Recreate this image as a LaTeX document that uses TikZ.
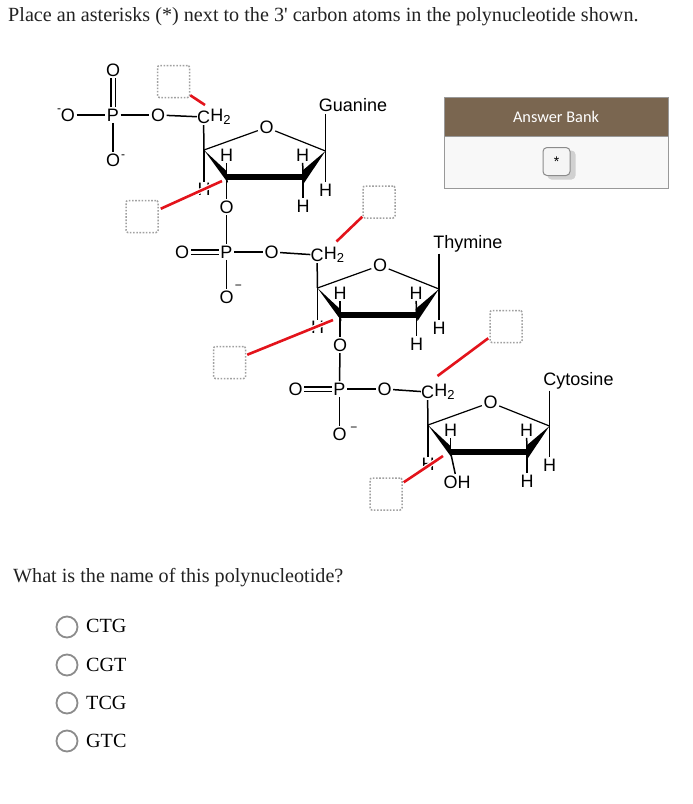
\documentclass[tikz,border=0pt]{standalone}
\usepackage{fontspec}
\setmainfont{Liberation Serif}
\newfontfamily\plainserif{Liberation Serif}
\newfontfamily\chemfont{Liberation Sans}
\newfontfamily\bankfont{Carlito}
\definecolor{bankbrown}{HTML}{7A6650}
\definecolor{bankbody}{HTML}{F8F8F8}
\definecolor{bankline}{HTML}{999999}
\definecolor{dropline}{HTML}{A0A0A0}
\definecolor{redline}{HTML}{E3131B}
\definecolor{radioline}{HTML}{8C8C8C}
\definecolor{textdark}{HTML}{222222}
\newcommand{\chemsize}{\fontsize{18}{18}\selectfont}
\newcommand{\serifsize}{\fontsize{20.15}{22}\selectfont}
\tikzset{
  atom/.style={font=\chemfont\chemsize,inner sep=1.5pt,text=black},
  charge/.style={font=\chemfont\fontsize{12}{12}\selectfont,inner sep=0pt},
  bond/.style={draw=black,line width=1.5pt},
  dbond/.style={draw=black,line width=1.5pt,double,double distance=3pt},
  ringpt/.style={coordinate},
  dropbox/.style={draw=dropline,dash pattern=on 1.6pt off 1.6pt,line width=1.5pt,rounded corners=2pt,minimum width=32pt,minimum height=32pt,inner sep=0pt},
  redbond/.style={draw=redline,line width=2.6pt,preaction={draw=white,line width=5pt}},
  radio/.style={circle,draw=radioline,line width=1.8pt,minimum size=21pt,inner sep=0pt},
  choice/.style={font=\serifsize,anchor=west,inner sep=0pt,text=black},
  qtext/.style={font=\serifsize,anchor=west,inner sep=0pt,text=textdark},
}
% #1 prefix, #2 x shift, #3 y shift, #4 base label, #5 label x shift
\newcommand{\sugar}[5]{%
  \begin{scope}[shift={(#2,#3)}]
    \node[ringpt] (#1c4) at (204,150) {};
    \node[ringpt] (#1c3) at (226.5,177) {};
    \node[ringpt] (#1c2) at (303,177) {};
    \node[ringpt] (#1c1) at (325.5,151) {};
    \node[ringpt] (#1w3b) at (226.5,171) {};
    \node[ringpt] (#1w3c) at (228,183) {};
    \node[ringpt] (#1w2a) at (302,171) {};
    \node[ringpt] (#1w2b) at (304,183) {};
    \node[atom] (#1o) at (266.5,127.5) {O};
    \node[atom,inner sep=0pt,minimum height=16pt] (#1ch) at (203.5,117) {C};
    \node[atom,anchor=west,inner sep=0pt] (#1hh) at (#1ch.east) {H\raisebox{-3pt}{\fontsize{13}{13}\selectfont 2}};
    \node[atom] (#1ht3) at (226.5,155) {H};
    \node[atom] (#1ht2) at (302.5,155) {H};
    \node[atom] (#1hb1) at (325.5,190) {H};
    \node[atom] (#1hb2) at (303,206) {H};
    \node[atom] (#1hb4) at (204,189.5) {H};
    \draw[bond] (#1ch) -- (#1c4);
    \draw[bond,line width=1.2pt] (#1c4) -- (#1o);
    \draw[bond,line width=1.2pt] (#1o) -- (#1c1);
    \fill[black] (#1c4) -- (#1w3b) -- (#1w3c) -- cycle;
    \fill[black] (#1c1) -- (#1w2a) -- (#1w2b) -- cycle;
    \draw[black,line width=6pt] (#1c3) -- (#1c2);
    \draw[bond] (#1c4) -- (#1hb4.north);
    \draw[bond] (#1c3) -- (#1ht3);
    \draw[bond] (#1c2) -- (#1ht2);
    \draw[bond] (#1c1) -- (#1hb1);
    \draw[bond] (#1c2) -- (#1hb2);
    \node[atom] (#1base) at (352.5+#5,105.5) {#4};
    \draw[bond] (#1base.south -| #1c1) -- (#1c1);
  \end{scope}}
% #1 prefix, #2 x shift, #3 y shift
\newcommand{\phosphate}[3]{%
  \begin{scope}[shift={(#2,#3)}]
    \node[atom] (#1p) at (113,115) {P};
    \node[atom] (#1oe) at (158,115) {O};
    \node[atom] (#1os) at (113,160) {O};
  \end{scope}
  \draw[bond] (#1p) -- (#1oe);
  \draw[bond] (#1p) -- (#1os);}
\begin{document}
\begin{tikzpicture}[x=1pt,y=-1pt]
\useasboundingbox (0,0) rectangle (693,804);
\fill[white] (0,0) rectangle (693,804);
\node[qtext] (title) at (8,16.5) {Place an asterisks (*) next to the {\plainserif 3'} carbon atoms in the polynucleotide shown.};

\sugar{a}{0}{0}{Guanine}{0.5}
\sugar{b}{113.5}{138}{Thymine}{2}
\sugar{c}{224}{275}{Cytosine}{2}

% first phosphate
\phosphate{pa}{0}{0}
\node[atom] (paoo) at (113,70) {O};
\node[atom] (pao) at (68,115) {O};
\node[charge] (pam) at (59,111) {-};
\node[charge] (pasm) at (123,157) {-};
\draw[dbond] (pap) -- (paoo);
\draw[bond] (pao) -- (pap);
\draw[bond] (paoe) -- (ach);

% second phosphate
\node[atom] (ao3) at (226.5,207) {O};
\phosphate{pb}{113.5}{137}
\node[atom] (pboo) at (182,252) {O};
\draw[bond] (ac3) -- (ao3);
\draw[bond] (ao3) -- (pbp);
\draw[dbond] (pbp) -- (pboo);
\draw[bond] (pboe) -- (bch);
\node[charge] (pbm) at (238.5,287) {−};

% third phosphate
\node[atom] (bo3) at (340,345) {O};
\phosphate{pc}{226.5}{274}
\node[atom] (pcoo) at (295.5,389) {O};
\draw[bond] (bc3) -- (bo3);
\draw[bond] (bo3) -- (pcp);
\draw[dbond] (pcp) -- (pcoo);
\draw[bond] (pcoe) -- (cch);
\node[charge] (pcm) at (354,429) {−};

% terminal OH
\node[atom] (coh) at (457,482) {OH};
\draw[bond] (cc3) -- (coh);

% drop boxes and red leaders
\node[dropbox] (d1) at (173.5,81.5) {};
\node[dropbox] (d2) at (142,216.5) {};
\node[dropbox] (d3) at (229.5,362.5) {};
\node[dropbox] (d4) at (379,202) {};
\node[dropbox] (d5) at (506,326.5) {};
\node[dropbox] (d6) at (386,494) {};
\coordinate (r1) at (205,105);
\coordinate (r2) at (222,181);
\coordinate (r3) at (333,320);
\coordinate (r4) at (336.5,241.5);
\coordinate (r5) at (437.5,376);
\coordinate (r6) at (443,456);
\path (d1.south east) ++(0,-3) coordinate (s1);
\path (d2.north east) ++(2,9) coordinate (s2);
\path (d3.north east) ++(1,9) coordinate (s3);
\path (d4.south west) ++(0,-2) coordinate (s4);
\path (d5.south west) ++(-1,-5) coordinate (s5);
\path (d6.north east) ++(1,5) coordinate (s6);
\draw[redbond] (s1) -- (r1);
\draw[redbond] (s2) -- (r2);
\draw[redbond] (s3) -- (r3);
\draw[redbond] (s4) -- (r4);
\draw[redbond] (s5) -- (r5);
\draw[redbond] (s6) -- (r6);

% answer bank
\node[draw=bankline,fill=bankbody,line width=1pt,minimum width=224pt,minimum height=91pt,inner sep=0pt] (bank) at (556,142.5) {};
\node[draw=bankline,fill=bankbrown,line width=1pt,minimum width=224pt,minimum height=39pt,inner sep=0pt,text=white,font=\bankfont\fontsize{16.3}{17}\selectfont] (bankhead) at (556,116.5) {Answer Bank};
\node[draw=none,fill=black!18,rounded corners=4pt,minimum width=28pt,minimum height=29pt] (btnshadow) at (561.5,165) {};
\node[draw=black!45,fill=white!96!black,line width=1pt,rounded corners=4pt,minimum width=27pt,minimum height=28pt,inner sep=0pt,font=\chemfont\fontsize{14}{14}\selectfont] (btn) at (556.5,161.5) {*};

% question
\node[qtext] (q) at (13,577.5) {What is the name of this polynucleotide?};
\node[radio] (r1c) at (67,627) {};
\node[radio] (r2c) at (67,665) {};
\node[radio] (r3c) at (67,703) {};
\node[radio] (r4c) at (67,741) {};
\node[choice] (t1) at (86,626) {CTG};
\node[choice] (t2) at (86,665) {CGT};
\node[choice] (t3) at (86,703) {TCG};
\node[choice] (t4) at (86,741) {GTC};
\end{tikzpicture}
\end{document}
